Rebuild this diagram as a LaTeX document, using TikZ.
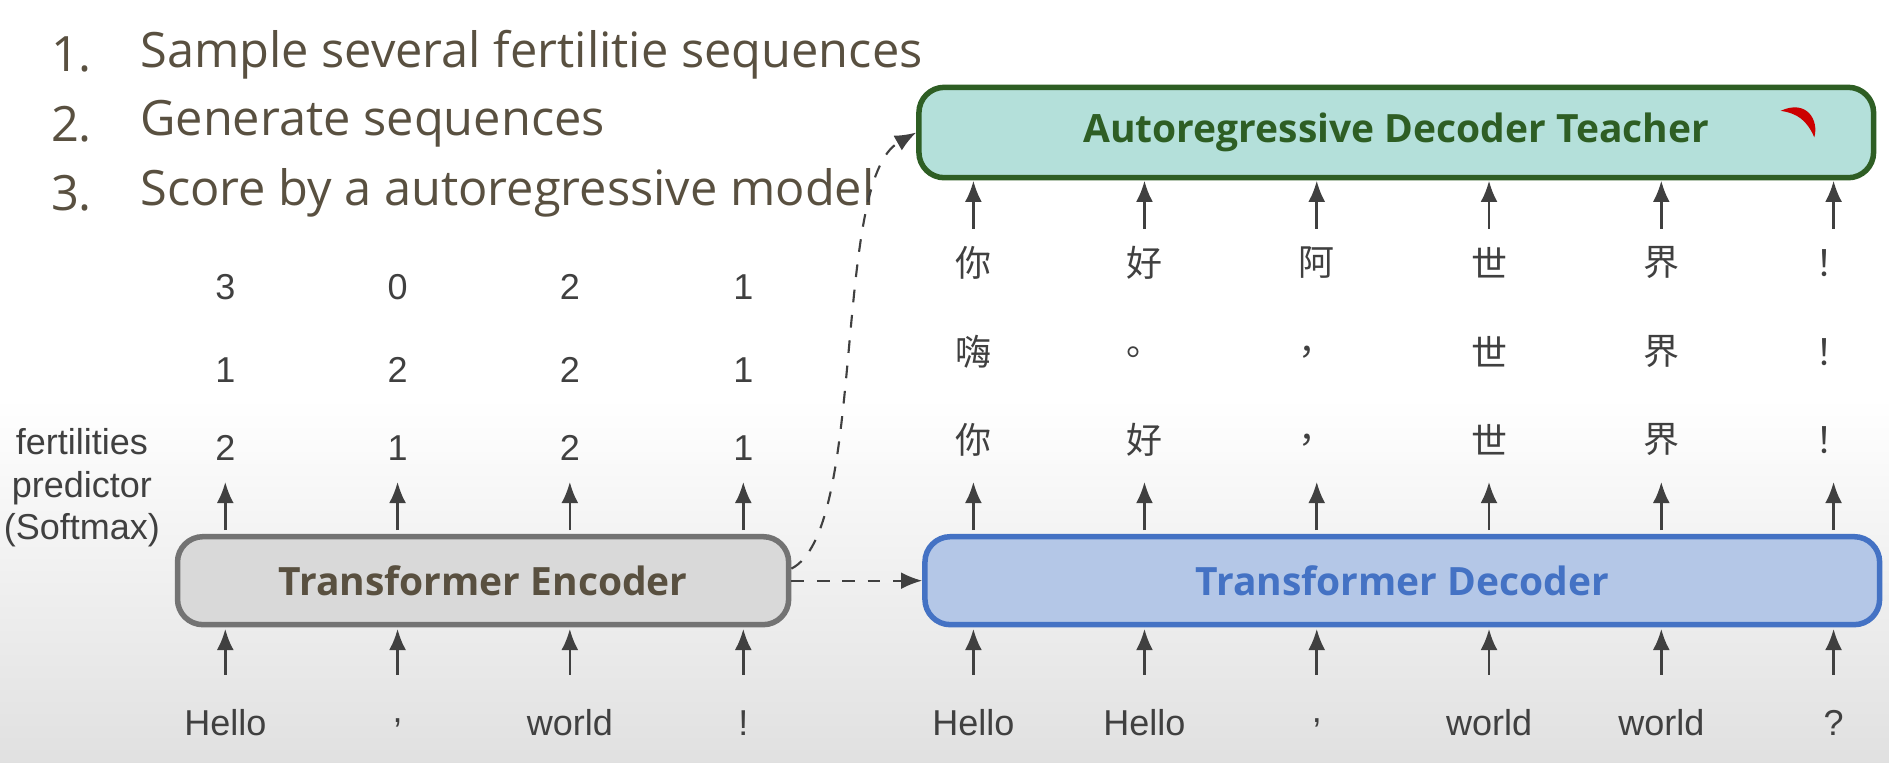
\documentclass[tikz,border=0pt]{standalone}
\usepackage{fontspec}
\setmainfont{Liberation Sans}
\newfontfamily\opensans{Open Sans}
\newfontfamily\cjk{Noto Sans CJK SC}
\usetikzlibrary{arrows.meta}
\definecolor{txt}{HTML}{595040}
\definecolor{ar}{HTML}{404040}
\definecolor{bluefill}{HTML}{B4C7E7}
\definecolor{blueline}{HTML}{4472C4}
\definecolor{teal1}{HTML}{B4E0DA}
\definecolor{grn}{HTML}{2E5E24}
\begin{document}
\begin{tikzpicture}[x=0.01cm,y=-0.01cm,
  up/.style={-{Latex[length=5pt,width=4pt]},ar,line width=0.6pt},
  lbl/.style={font=\fontsize{8.5pt}{10pt}\selectfont,text=ar},
  zh/.style={font=\cjk\fontsize{8.5pt}{10pt}\selectfont,text=ar},
  list/.style={font=\opensans\fontsize{11.5pt}{13pt}\selectfont,text=txt,anchor=west},
  box/.style={rounded corners=6pt,line width=1.3pt,inner sep=0pt,font=\opensans\bfseries\fontsize{9.2pt}{11pt}\selectfont},
  dconn/.style={dashed,ar,line width=0.5pt,-{Latex[length=5pt,width=4pt]}}]
\shade[top color=white,bottom color=white] (0,0) rectangle (1568,330);
\shade[top color=white,bottom color=black!12] (0,330) rectangle (1568,633);
\useasboundingbox (0,0) rectangle (1568,633);
% list
\foreach \n/\t/\y in {1/Sample several fertilitie sequences/45,2/Generate sequences/103,3/Score by a autoregressive model/160}{
  \node[list] (n\n) at (30,\y) {\n.};
  \node[list] (l\n) at (104,\y) {\t};
}
% boxes
\node[box,draw=black!55,fill=black!15,minimum width=5.07cm,minimum height=0.73cm,text=txt] (enc) at (401,482) {Transformer Encoder};
\node[box,draw=blueline,fill=bluefill,minimum width=7.92cm,minimum height=0.73cm,text=blueline] (dec) at (1164,482) {Transformer Decoder};
\node[box,draw=grn,fill=teal1,minimum width=7.92cm,minimum height=0.75cm,text=grn] (tea) at (1159,110) {Autoregressive Decoder Teacher};
% red logo
\fill[red!80!black] (1478,92) .. controls (1500,82) and (1510,100) .. (1506,114)
  .. controls (1500,100) and (1492,94) .. (1478,92) -- cycle;
% left label
\node[lbl,align=center] (fp) at (68,405) {fertilities\\predictor\\(Softmax)};
% encoder columns
\foreach \x/\w/\a/\b/\c [count=\i] in {187/Hello/3/1/2,330/{,}/0/2/1,473/world/2/2/2,617/!/1/1/1}{
  \node[lbl] (ew\i) at (\x,600) {\w};
  \coordinate (ei\i) at (\x,560);
  \draw[up] (ei\i) -- (\x,522);
  \coordinate (eo\i) at (\x,440);
  \node[lbl] (ea\i) at (\x,238) {\a};
  \node[lbl] (eb\i) at (\x,307) {\b};
  \node[lbl] (ec\i) at (\x,372) {\c};
  \draw[up] (eo\i) -- (\x,400);
}
% decoder columns
\foreach \x/\w/\a/\b/\c [count=\i] in {808/Hello/你/嗨/你,950/Hello/好/。/好,1093/{,}/阿/，/，,1236/world/世/世/世,1379/world/界/界/界,1522/?/！/！/！}{
  \node[lbl] (dw\i) at (\x,600) {\w};
  \coordinate (di\i) at (\x,560);
  \draw[up] (di\i) -- (\x,522);
  \coordinate (do\i) at (\x,440);
  \draw[up] (do\i) -- (\x,400);
  \node[zh] (da\i) at (\x,218) {\a};
  \node[zh] (db\i) at (\x,292) {\b};
  \node[zh] (dc\i) at (\x,365) {\c};
  \coordinate (dt\i) at (\x,190);
  \draw[up] (dt\i) -- (\x,150);
}
\draw[dconn] (enc.east) -- (dec.west);
\draw[dconn] ([yshift=0.1cm]enc.east) .. controls (720,440) and (690,150) .. (tea.west);
\end{tikzpicture}
\end{document}
